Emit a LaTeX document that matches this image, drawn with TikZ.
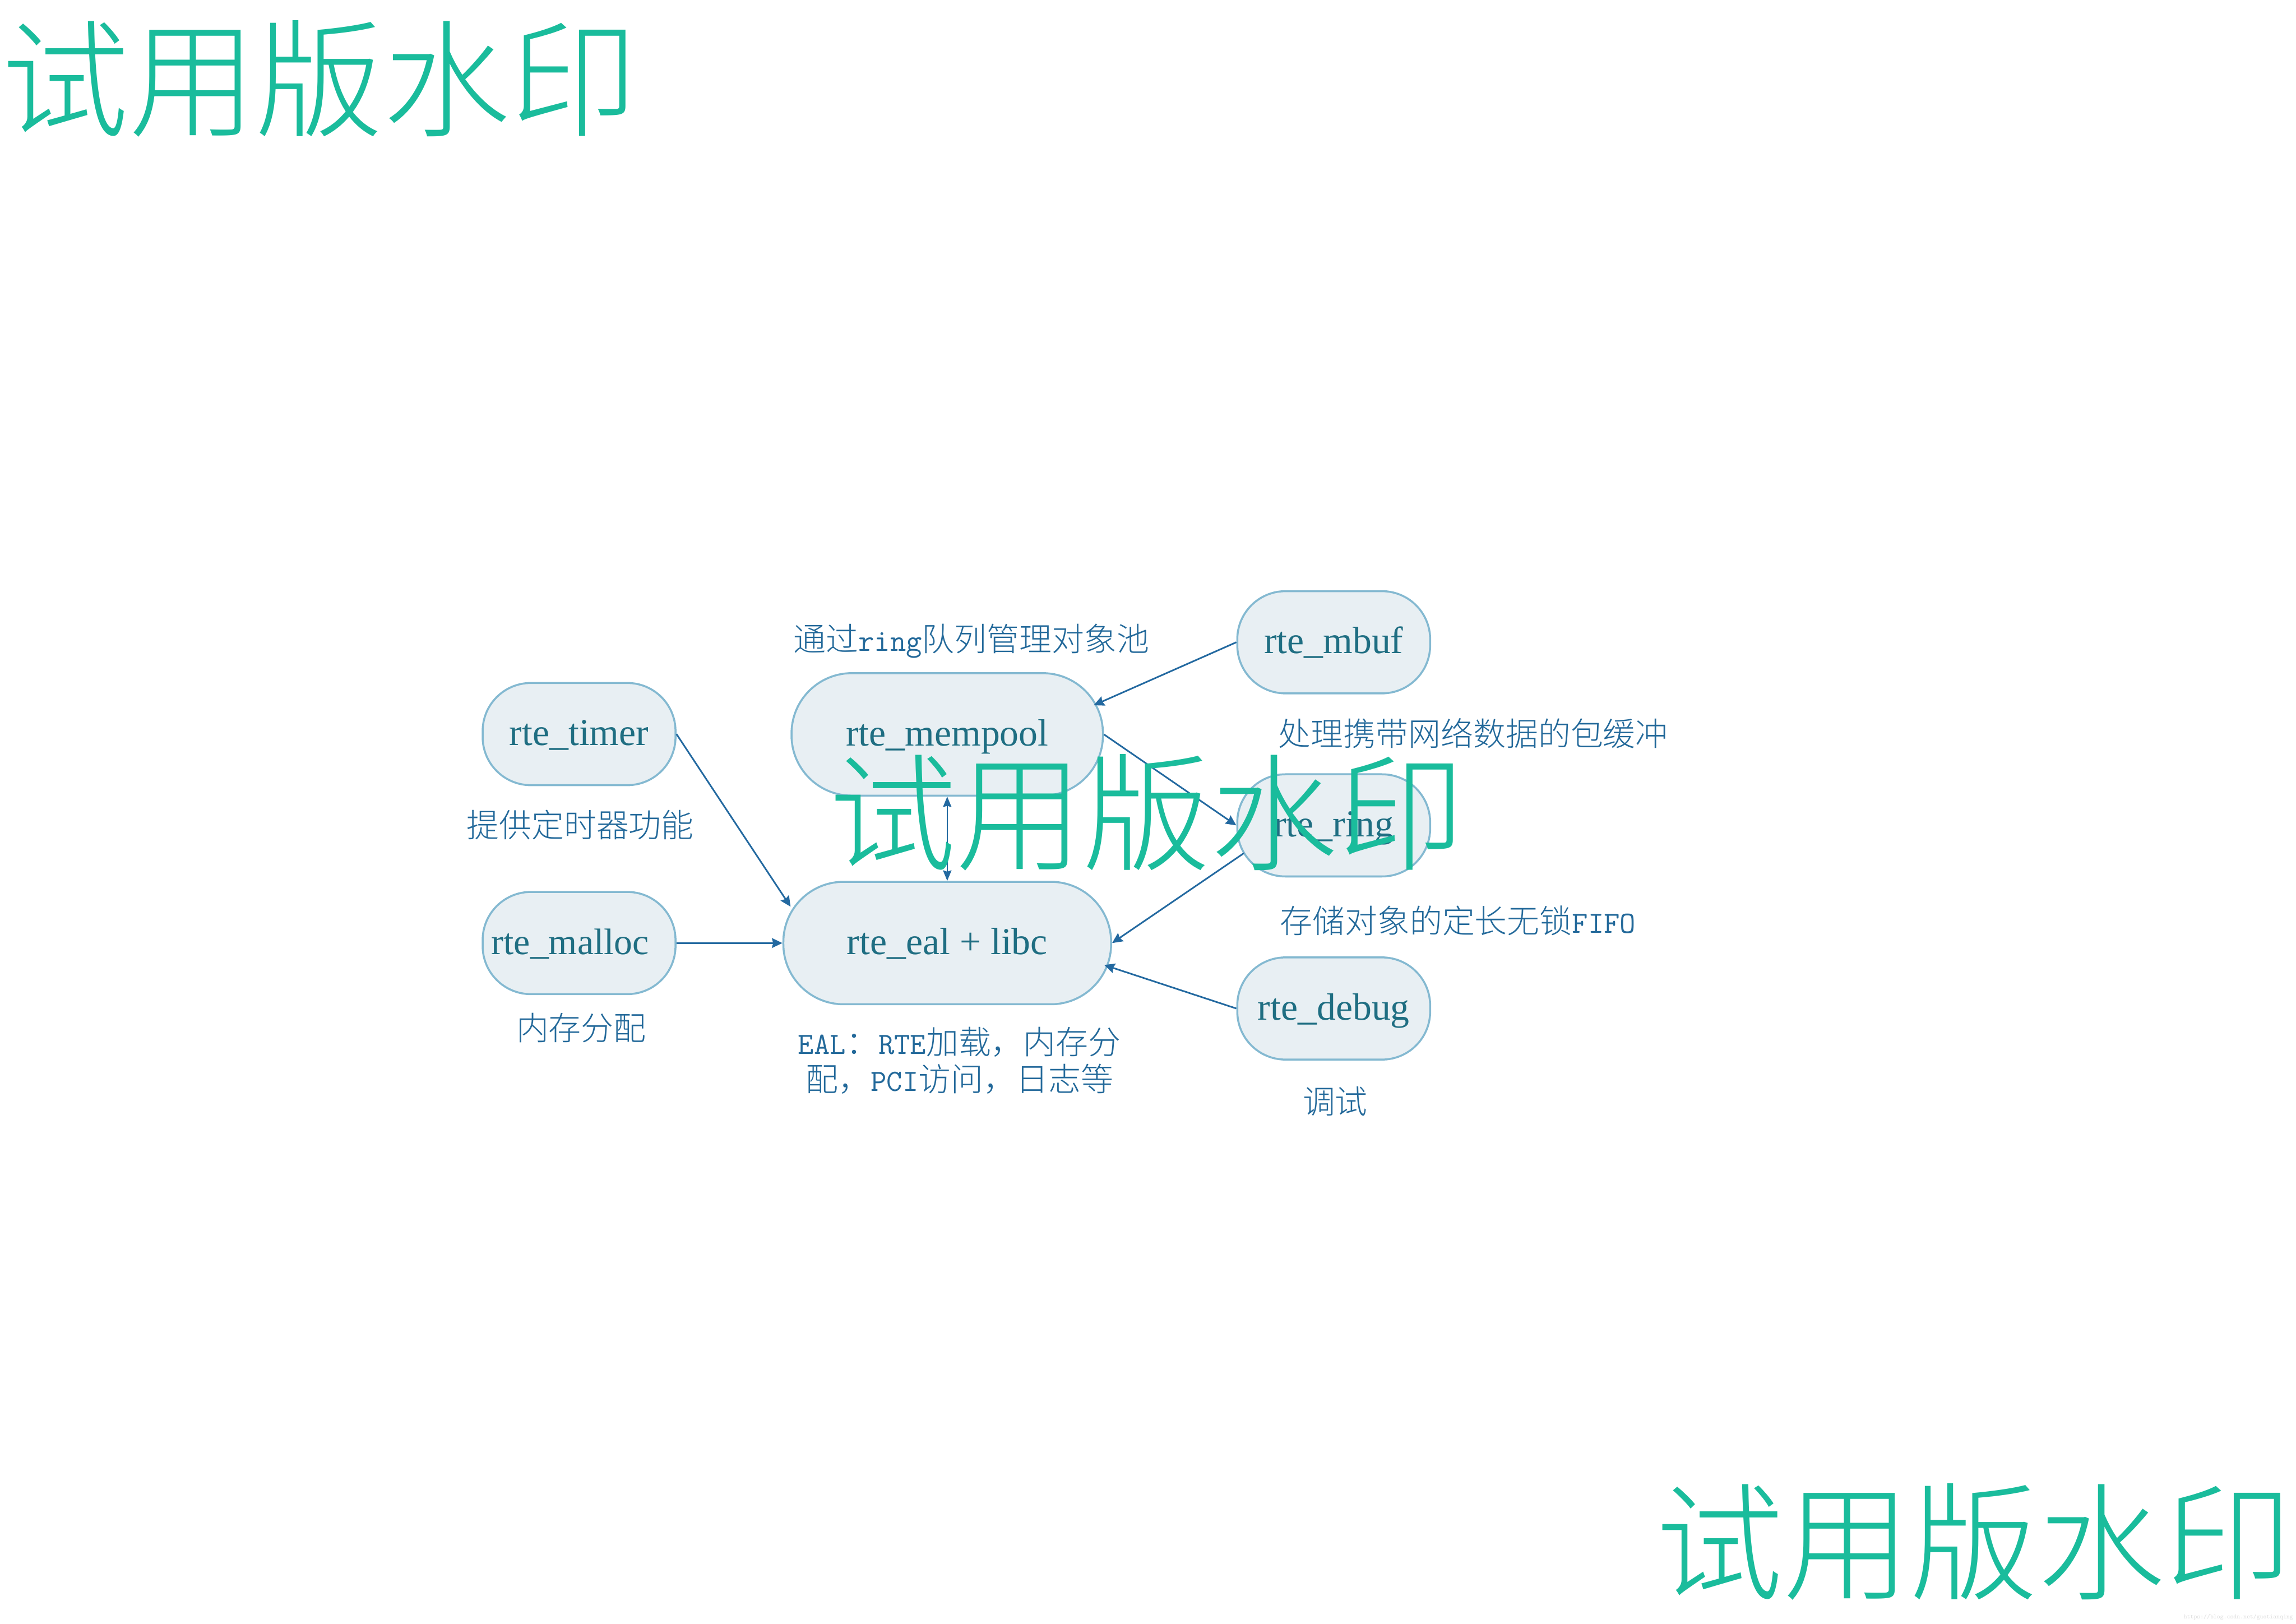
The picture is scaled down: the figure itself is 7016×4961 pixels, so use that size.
\documentclass[tikz,border=0pt]{standalone}
\usepackage{fontspec}
\usetikzlibrary{arrows.meta}
\setmainfont{Liberation Serif}
\newfontfamily\cjk[UprightFont=* Light]{Noto Sans CJK SC}
\newcommand{\lat}[1]{{\ttfamily\fontsize{26.85pt}{32.2pt}\selectfont #1}}
\definecolor{boxfill}{HTML}{E8EFF3}
\definecolor{boxline}{HTML}{84B9D1}
\definecolor{boxtext}{HTML}{1F6E82}
\definecolor{linkcol}{HTML}{2369A0}
\definecolor{notecol}{HTML}{23699A}
\definecolor{markcol}{HTML}{1ABC9C}
\definecolor{urlcol}{HTML}{DDDDDD}
\tikzset{
  x=0.01cm,y=0.01cm,
  box/.style={draw=boxline,fill=boxfill,line width=0.06cm,rounded corners=1.47cm,
    minimum width=5.89cm,minimum height=3.12cm,inner sep=0pt,text=boxtext,
    font=\fontsize{33pt}{36pt}\selectfont,text height=21.7pt,text depth=2pt},
  bigbox/.style={box,rounded corners=1.84cm,minimum height=3.74cm},
  note/.style={text=notecol,font=\cjk\fontsize{28.2pt}{32.2pt}\selectfont,inner sep=0pt,align=center},
  link/.style={draw=linkcol,line width=0.05cm,-{Stealth[length=0.32cm,width=0.3cm,inset=0.04cm]}},
  thinlink/.style={draw=linkcol,line width=0.035cm,{Stealth[length=0.32cm,width=0.26cm,inset=0.04cm]}-{Stealth[length=0.32cm,width=0.26cm,inset=0.04cm]}},
  stamp/.style={text=markcol,font=\cjk\fontsize{110.5pt}{120pt}\selectfont,inner sep=0pt},
}
\begin{document}
\begin{tikzpicture}
\useasboundingbox (0,0) rectangle (7016,-4961);
\node[box] (timer) at (1769.5,-2243) {rte\_timer};
\node[box] (malloc) at (1769.5,-2881.5) {\fontsize{32pt}{36pt}\selectfont rte\_malloc\kern0.54cm\relax};
\node[bigbox,minimum width=9.51cm] (mempool) at (2894.5,-2244) {rte\_mempool};
\node[bigbox,minimum width=10.01cm] (eal) at (2894.5,-2881.5) {rte\_eal + libc};
\node[box] (mbuf) at (4075.5,-1962.5) {rte\_mbuf};
\node[box] (ring) at (4075.5,-2522) {rte\_ring};
\node[box] (debug) at (4075.5,-3081.5) {rte\_debug};
\coordinate (timerin) at ([shift={(25,-79)}]eal.north west);
\coordinate (mbufin) at ([shift={(-31,-101)}]mempool.north east);
\coordinate (ringout) at ([shift={(23,74)}]ring.south west);
\coordinate (debugin) at ([shift={(-24,123)}]eal.south east);
\draw[link] (timer.east) -- (timerin);
\draw[link] (malloc.east) -- (eal.west);
\draw[link] (mbuf.west) -- (mbufin);
\draw[link] (mempool.east) -- (ring.west);
\draw[link] (ringout) -- (eal.east);
\draw[link] (debug.west) -- (debugin);
\draw[thinlink] (eal.north) -- (mempool.south);
\node[note] (n1) at (2968,-1958) {通过\lat{ring}队列管理对象池};
\node[note] (n2) at (1773,-2521) {提供定时器功能};
\node[note] (n3) at (1776,-3141) {内存分配};
\node[note] (n4) at (2932,-3240) {\lat{EAL}：\lat{RTE}加载，内存分\\配，\lat{PCI}访问，日志等};
\node[note] (n5) at (4502,-2240) {处理携带网络数据的包缓冲};
\node[note] (n6) at (4455,-2814) {存储对象的定长无锁\lat{FIFO}};
\node[note] (n7) at (4080,-3365) {调试};
\node[stamp] (w1) at (977,-240) {试用版水印};
\node[stamp] (w2) at (3505,-2483) {试用版水印};
\node[stamp] (w3) at (6033,-4711) {试用版水印};
\node[inner sep=0pt,text=urlcol,font=\ttfamily\fontsize{5.42pt}{6pt}\selectfont] (u) at (6840,-4942) {https://blog.csdn.net/guotianqing};
\end{tikzpicture}
\end{document}
